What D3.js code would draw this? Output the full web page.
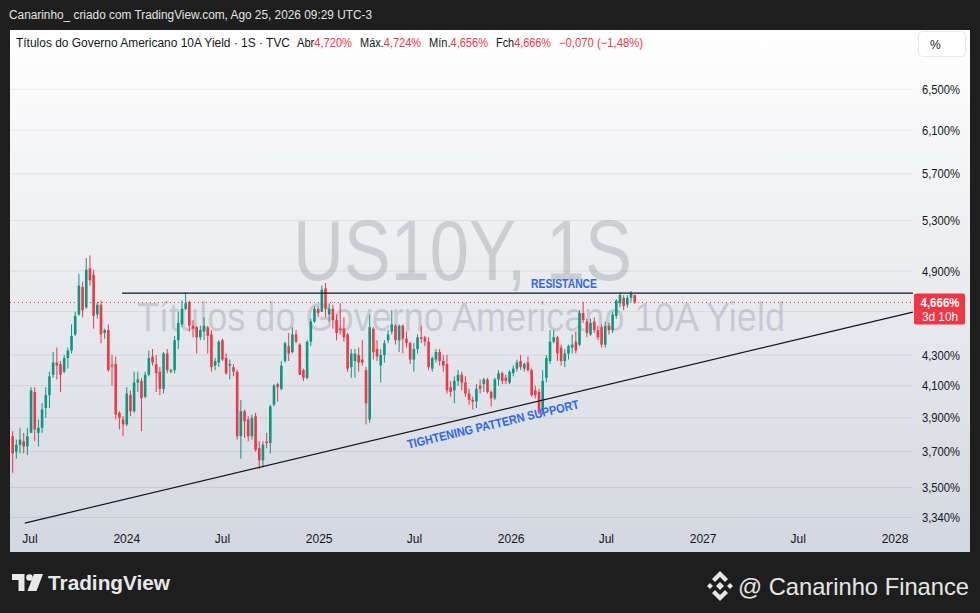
<!DOCTYPE html>
<html><head><meta charset="utf-8">
<script src="https://cdn.jsdelivr.net/npm/d3@7"></script>
<style>html,body{margin:0;padding:0;background:#1e1e1e;}svg{display:block;}</style>
</head><body>
<svg id="c" width="980" height="613"></svg>
<script>
// ---------- data (weekly candles, US10Y) ----------
const startWeek = "2023-05-29";
const opens = [3.79,3.70,3.74,3.76,3.73,3.81,4.06,3.81,3.84,3.96,
4.04,4.17,4.25,4.24,4.19,4.28,4.33,4.44,4.58,4.78,
4.63,4.92,4.87,4.58,4.65,4.45,4.47,4.235,4.24,3.93,
3.89,3.86,4.04,3.94,4.12,4.13,4.03,4.17,4.29,4.24,
4.19,4.08,4.31,4.19,4.20,4.40,4.51,4.62,4.67,4.50,
4.49,4.42,4.46,4.49,4.44,4.23,4.25,4.40,4.28,4.23,
4.22,4.19,3.79,3.94,3.89,3.79,3.91,3.72,3.65,3.76,
3.75,3.98,4.11,4.08,4.26,4.36,4.32,4.44,4.37,4.20,
4.15,4.39,4.53,4.62,4.60,4.77,4.58,4.62,4.54,4.48,
4.48,4.44,4.22,4.26,4.30,4.27,4.20,3.89,4.48,4.34,
4.23,4.30,4.40,4.46,4.50,4.40,4.50,4.41,4.38,4.27,
4.34,4.42,4.42,4.39,4.21,4.27,4.32,4.26,4.24,4.09,
4.07,4.13,4.17,4.12,4.05,4.01,4.00,4.10,4.11,4.14,
4.06,4.02,4.14,4.18,4.15,4.12,4.18,4.21,4.26,4.21,
4.25,4.20,4.07,4.06,3.94,4.15,4.26,4.39,4.42,4.35,
4.26,4.31,4.35,4.39,4.37,4.59,4.53,4.44,4.53,4.47,
4.49,4.37,4.50,4.47,4.57,4.66,4.70,4.65,4.70,4.720];
const highs = [3.82,3.77,3.84,3.81,3.84,4.09,4.09,3.89,3.99,4.09,
4.19,4.32,4.35,4.26,4.30,4.35,4.51,4.60,4.88,4.82,
5.00,5.02,4.91,4.67,4.68,4.48,4.51,4.30,4.29,3.94,
3.91,4.09,4.07,4.19,4.19,4.15,4.19,4.33,4.34,4.30,
4.22,4.32,4.34,4.21,4.43,4.60,4.68,4.74,4.68,4.54,
4.50,4.50,4.56,4.50,4.47,4.28,4.40,4.41,4.31,4.27,
4.24,4.20,4.01,3.95,3.91,3.92,3.93,3.76,3.76,3.81,
3.98,4.11,4.12,4.26,4.39,4.45,4.49,4.47,4.38,4.21,
4.40,4.55,4.64,4.64,4.79,4.81,4.66,4.65,4.58,4.66,
4.56,4.45,4.34,4.34,4.35,4.40,4.22,4.58,4.49,4.40,
4.34,4.40,4.47,4.61,4.51,4.51,4.51,4.46,4.39,4.38,
4.44,4.50,4.43,4.42,4.29,4.34,4.34,4.30,4.30,4.13,
4.16,4.20,4.19,4.16,4.08,4.03,4.11,4.14,4.15,4.15,
4.07,4.15,4.20,4.19,4.17,4.20,4.23,4.27,4.30,4.25,
4.29,4.21,4.10,4.08,4.20,4.30,4.47,4.47,4.43,4.37,
4.34,4.37,4.44,4.46,4.61,4.67,4.55,4.55,4.56,4.50,
4.51,4.53,4.52,4.60,4.69,4.74,4.72,4.72,4.75,4.724];
const lows = [3.58,3.66,3.69,3.69,3.68,3.82,3.76,3.73,3.81,3.90,
3.96,4.15,4.14,4.06,4.18,4.21,4.31,4.43,4.57,4.56,
4.62,4.79,4.48,4.55,4.38,4.41,4.19,4.10,3.89,3.83,
3.79,3.85,3.91,3.93,4.06,3.82,4.02,4.16,4.23,4.06,
4.04,4.05,4.18,4.18,4.18,4.34,4.49,4.61,4.46,4.42,
4.31,4.40,4.40,4.31,4.19,4.20,4.22,4.26,4.17,4.14,
4.16,3.77,3.66,3.78,3.76,3.77,3.70,3.60,3.61,3.72,
3.69,3.97,4.00,4.07,4.25,4.26,4.31,4.38,4.17,4.13,
4.14,4.36,4.52,4.56,4.60,4.56,4.53,4.48,4.40,4.44,
4.39,4.19,4.15,4.15,4.19,4.23,3.86,3.87,4.27,4.26,
4.12,4.25,4.38,4.44,4.37,4.32,4.31,4.35,4.24,4.19,
4.31,4.38,4.36,4.20,4.19,4.25,4.23,4.19,4.05,4.03,
3.99,4.10,4.07,4.03,3.98,3.95,3.96,4.05,4.06,4.05,
3.97,4.01,4.10,4.11,4.11,4.11,4.16,4.19,4.20,4.19,
4.19,4.03,4.02,3.92,3.92,4.12,4.24,4.38,4.26,4.23,
4.22,4.27,4.31,4.31,4.36,4.52,4.42,4.43,4.45,4.40,
4.35,4.35,4.44,4.45,4.55,4.63,4.61,4.63,4.67,4.656];
const closes = [3.69,3.74,3.77,3.73,3.79,4.07,3.83,3.84,3.95,4.04,
4.16,4.25,4.23,4.17,4.28,4.33,4.43,4.57,4.79,4.61,
4.91,4.83,4.57,4.65,4.44,4.47,4.20,4.225,3.92,3.90,
3.86,4.05,3.94,4.12,4.14,4.02,4.17,4.28,4.25,4.18,
4.08,4.31,4.20,4.20,4.40,4.52,4.62,4.66,4.50,4.48,
4.42,4.47,4.50,4.43,4.22,4.26,4.39,4.27,4.18,4.24,
4.19,3.79,3.94,3.88,3.79,3.90,3.71,3.65,3.74,3.75,
3.97,4.10,4.09,4.23,4.38,4.31,4.44,4.39,4.17,4.15,
4.39,4.53,4.62,4.59,4.76,4.62,4.62,4.54,4.45,4.47,
4.42,4.21,4.31,4.31,4.25,4.25,3.99,4.49,4.32,4.29,
4.30,4.38,4.44,4.51,4.40,4.50,4.41,4.38,4.27,4.34,
4.42,4.41,4.39,4.22,4.28,4.32,4.26,4.23,4.07,4.06,
4.13,4.17,4.12,4.05,4.01,4.00,4.08,4.08,4.14,4.06,
4.02,4.14,4.18,4.13,4.13,4.19,4.21,4.25,4.22,4.24,
4.20,4.04,4.04,3.93,4.13,4.28,4.39,4.42,4.31,4.26,
4.31,4.36,4.37,4.33,4.59,4.54,4.45,4.52,4.47,4.42,
4.37,4.50,4.47,4.58,4.68,4.72,4.64,4.70,4.73,4.666];

const yTicks = [6.5,6.1,5.7,5.3,4.9,4.6,4.3,4.1,3.9,3.7,3.5,3.34];
const yTickLabels = ["6,500%","6,100%","5,700%","5,300%","4,900%","","4,300%","4,100%","3,900%","3,700%","3,500%","3,340%"];
const xTickDates = ["2023-07-01","2024-01-01","2024-07-01","2025-01-01","2025-07-01","2026-01-01","2026-07-01","2027-01-01","2027-07-01","2028-01-01"];
const xTickLabels = ["Jul","2024","Jul","2025","Jul","2026","Jul","2027","Jul","2028"];
const resistanceStart = "2023-12-23";
const resistanceValue = 4.735;
const supportDates = ["2023-06-21","2028-02-04"];
const supportValues = [3.311,4.597];
const lastPrice = 4.666;
const lastPriceLabel = "4,666%";
const countdown = "3d 10h";
const headerParts = [
  {parts:[["Títulos do Governo Americano 10A Yield · 1S · TVC","#131722"]], x:16, w:274},
  {parts:[["Abr","#131722"],["4,720%","#f23645"]], x:297, w:55},
  {parts:[["Máx.","#131722"],["4,724%","#f23645"]], x:360, w:61},
  {parts:[["Mín.","#131722"],["4,656%","#f23645"]], x:429, w:59},
  {parts:[["Fch","#131722"],["4,666%","#f23645"]], x:496, w:55},
  {parts:[["−0,070 (−1,48%)","#f23645"]], x:559, w:84}
];

// ---------- drawing ----------
const FONT = "'Liberation Sans', Arial, sans-serif";
const UP = "#089981", DOWN = "#f23645";
const svg = d3.select("#c");
const parse = s => new Date(s + "T00:00:00Z");
const dates = opens.map((_, i) => d3.utcMonday.offset(parse(startWeek), i));

const x = d3.scaleUtc().domain([parse("2023-07-01"), parse("2028-01-01")]).range([30, 895]);
const y = d3.scaleLog().domain([3.34, 6.5]).range([517.5, 89.3]);
const plot = {l:10, r:913, t:30, b:531};

const defs = svg.append("defs");
const g = defs.append("linearGradient").attr("id","bg").attr("gradientUnits","userSpaceOnUse")
  .attr("x1",0).attr("y1",30).attr("x2",0).attr("y2",552);
g.append("stop").attr("offset","0%").attr("stop-color","#ffffff");
g.append("stop").attr("offset","100%").attr("stop-color","#d3d7df");
defs.append("clipPath").attr("id","clip").append("rect")
  .attr("x",plot.l).attr("y",plot.t).attr("width",plot.r-plot.l).attr("height",plot.b-plot.t);

svg.append("rect").attr("width",980).attr("height",613).attr("fill","#1e1e1e");
svg.append("rect").attr("x",10).attr("y",30).attr("width",960).attr("height",522).attr("fill","url(#bg)");

// top caption
svg.append("text").attr("x",9).attr("y",18.5).attr("font-family",FONT).attr("font-size",12)
  .attr("fill","#e3e3e3").attr("textLength",363).attr("lengthAdjust","spacingAndGlyphs")
  .text("Canarinho_ criado com TradingView.com, Ago 25, 2026 09:29 UTC-3");

// grid
svg.append("g").selectAll("line").data(yTicks).join("line")
  .attr("x1",plot.l).attr("x2",plot.r).attr("y1",d=>y(d)).attr("y2",d=>y(d))
  .attr("stroke","#000").attr("stroke-opacity",0.07).attr("stroke-width",1);

// watermark
svg.append("text").attr("x",293).attr("y",280).attr("font-family",FONT).attr("font-size",86)
  .attr("fill","#787b86").attr("fill-opacity",0.28).attr("textLength",339).attr("lengthAdjust","spacingAndGlyphs")
  .text("US10Y, 1S");
svg.append("text").attr("x",137).attr("y",331).attr("font-family",FONT).attr("font-size",40)
  .attr("fill","#787b86").attr("fill-opacity",0.28).attr("textLength",648).attr("lengthAdjust","spacingAndGlyphs")
  .text("Títulos do Governo Americano 10A Yield");

const pg = svg.append("g").attr("clip-path","url(#clip)");

// last price dotted line
pg.append("line").attr("x1",plot.l).attr("x2",plot.r).attr("y1",y(lastPrice)).attr("y2",y(lastPrice))
  .attr("stroke",DOWN).attr("stroke-width",1).attr("stroke-dasharray","1,3");

// candles
const bars = opens.map((o,i)=>({d:dates[i],o,h:highs[i],l:lows[i],c:closes[i]}));
const cg = pg.append("g");
cg.selectAll("line").data(bars).join("line")
  .attr("x1",d=>x(d.d)).attr("x2",d=>x(d.d)).attr("y1",d=>y(d.h)).attr("y2",d=>y(d.l))
  .attr("stroke",d=>d.c>=d.o?UP:DOWN).attr("stroke-width",1);
const bw = 2.6;
cg.selectAll("rect").data(bars).join("rect")
  .attr("x",d=>x(d.d)-bw/2).attr("width",bw)
  .attr("y",d=>y(Math.max(d.o,d.c)))
  .attr("height",d=>Math.max(1,Math.abs(y(d.o)-y(d.c))))
  .attr("fill",d=>d.c>=d.o?UP:DOWN);

// resistance
pg.append("line").attr("x1",x(parse(resistanceStart))).attr("x2",plot.r)
  .attr("y1",y(resistanceValue)).attr("y2",y(resistanceValue))
  .attr("stroke","#131722").attr("stroke-width",1.3);
// support
pg.append("line").attr("x1",x(parse(supportDates[0]))).attr("y1",y(supportValues[0]))
  .attr("x2",x(parse(supportDates[1]))).attr("y2",y(supportValues[1]))
  .attr("stroke","#131722").attr("stroke-width",1.2);

// annotations
svg.append("text").attr("x",564).attr("y",287.5).attr("text-anchor","middle").attr("font-family",FONT)
  .attr("font-size",12).attr("font-weight",600).attr("fill","#2f66f5").attr("textLength",66).attr("lengthAdjust","spacingAndGlyphs")
  .text("RESISTANCE");
{
  const x1=x(parse(supportDates[0])), y1=y(supportValues[0]), x2=x(parse(supportDates[1])), y2=y(supportValues[1]);
  const ang = Math.atan2(y2-y1, x2-x1)*180/Math.PI;
  svg.append("text").attr("transform",`translate(494,428.5) rotate(${ang})`).attr("text-anchor","middle")
    .attr("font-family",FONT).attr("font-size",12.5).attr("font-weight",600).attr("fill","#2f66f5")
    .attr("textLength",176).attr("lengthAdjust","spacingAndGlyphs")
    .text("TIGHTENING PATTERN SUPPORT");
}

// header legend
const hg = svg.append("g").selectAll("text").data(headerParts).join("text")
  .attr("x",d=>d.x).attr("y",46.5).attr("font-family",FONT).attr("font-size",12)
  .attr("textLength",d=>d.w).attr("lengthAdjust","spacingAndGlyphs");
hg.selectAll("tspan").data(d=>d.parts).join("tspan").attr("fill",p=>p[1]).text(p=>p[0]);

// % button
svg.append("rect").attr("x",918.5).attr("y",31.5).attr("width",47).attr("height",25).attr("rx",4)
  .attr("fill","#ffffff").attr("stroke","#e6e8ee");
svg.append("text").attr("x",930).attr("y",49).attr("font-family",FONT).attr("font-size",12).attr("fill","#131722").text("%");

// y-axis labels
svg.append("g").selectAll("text").data(yTicks.map((v,i)=>({v,l:yTickLabels[i]})).filter(d=>d.l)).join("text")
  .attr("x",960).attr("y",d=>y(d.v)+4.5).attr("text-anchor","end").attr("font-family",FONT)
  .attr("font-size",12).attr("fill","#131722").attr("textLength",38).attr("lengthAdjust","spacingAndGlyphs")
  .text(d=>d.l);

// last price label
const ly = y(lastPrice);
svg.append("rect").attr("x",914).attr("y",ly-9).attr("width",51).attr("height",31).attr("rx",2).attr("fill",DOWN);
svg.append("text").attr("x",940).attr("y",ly+4.5).attr("text-anchor","middle").attr("font-family",FONT)
  .attr("font-size",12).attr("font-weight","bold").attr("fill","#fff").attr("textLength",39).attr("lengthAdjust","spacingAndGlyphs").text(lastPriceLabel);
svg.append("text").attr("x",940).attr("y",ly+18.5).attr("text-anchor","middle").attr("font-family",FONT)
  .attr("font-size",12).attr("fill","#fff").attr("textLength",36).attr("lengthAdjust","spacingAndGlyphs").text(countdown);

// x-axis labels
svg.append("g").selectAll("text").data(xTickDates.map((d,i)=>({d:parse(d),l:xTickLabels[i]}))).join("text")
  .attr("x",d=>x(d.d)).attr("y",543).attr("text-anchor","middle").attr("font-family",FONT)
  .attr("font-size",12).attr("fill","#131722").text(d=>d.l);

// footer: TradingView logo
const fl = svg.append("g").attr("fill","#e8e8e8");
fl.append("path").attr("d","M12,574 H24.5 V591 H18.5 V580 H12 Z");
fl.append("circle").attr("cx",29.5).attr("cy",577.5).attr("r",3.3);
fl.append("path").attr("d","M34,574 H43 L36.5,591 H27.5 Z");
fl.append("text").attr("x",48).attr("y",590).attr("font-family",FONT).attr("font-size",20).attr("font-weight","bold")
  .attr("textLength",122).attr("lengthAdjust","spacingAndGlyphs").text("TradingView");

// footer: Canarinho Finance
const fr = svg.append("g").attr("fill","#e6e6e6");
fr.append("path").attr("d","M720,582 L724,586 L720,590 L716,586 Z");
fr.append("path").attr("d","M707,586 L710,583 L713,586 L710,589 Z");
fr.append("path").attr("d","M727,586 L730,583 L733,586 L730,589 Z");
fr.append("path").attr("d","M712,579 L720,571 L728,579 L725,582 L720,577 L715,582 Z");
fr.append("path").attr("d","M712,593 L720,601 L728,593 L725,590 L720,595 L715,590 Z");
fr.append("text").attr("x",738).attr("y",595).attr("font-family",FONT).attr("font-size",24)
  .attr("textLength",231).attr("lengthAdjust","spacingAndGlyphs").text("@ Canarinho Finance");
</script>
</body></html>
